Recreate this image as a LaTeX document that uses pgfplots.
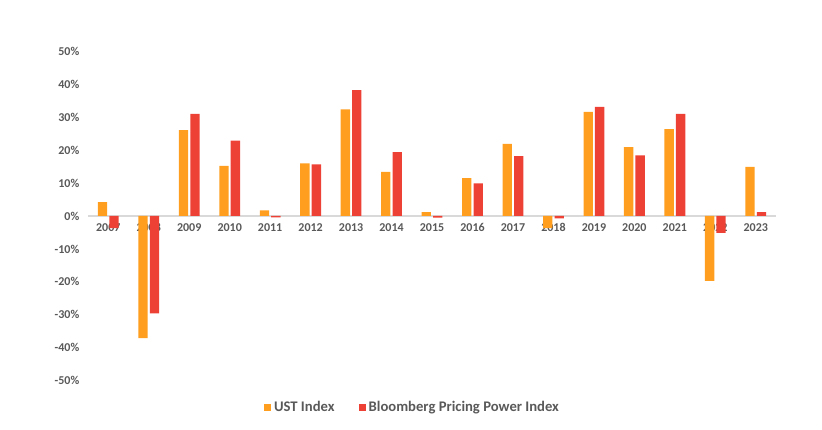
\documentclass[border=0pt]{standalone}
\usepackage{pgfplots}
\pgfplotsset{compat=1.18}
\usepackage{fontspec}
\setmainfont{Carlito}
\definecolor{ustorange}{HTML}{FF9E1F}
\definecolor{bbred}{HTML}{EE4136}
\definecolor{txtgray}{HTML}{595959}
\definecolor{zerogray}{HTML}{D9D9D9}
\begin{document}
\begin{tikzpicture}
\useasboundingbox (0,0) rectangle (616.5pt,321.75pt);
\begin{axis}[
    at={(81.2pt,159.75pt)}, anchor=origin,
    scale only axis,
    width=516pt, height=247pt,
    ybar=1.6pt, bar width=7pt,
    xmin=-0.5, xmax=16.5,
    ymin=-50, ymax=50,
    ytick={-50,-40,...,50},
    yticklabel={\pgfmathprintnumber{\tick}\%},
    xtick={0,...,16},
    xticklabels={2007,2008,2009,2010,2011,2012,2013,2014,2015,2016,2017,2018,2019,2020,2021,2022,2023},
    axis x line*=middle, axis y line*=left,
    x axis line style={-, draw=zerogray, line width=1.3pt},
    y axis line style={draw=none},
    major tick length=0pt,
    /pgf/number format/assume math mode=true,
    ticklabel style={font=\fontsize{9}{10}\selectfont\bfseries, text=txtgray},
    xticklabel style={yshift=-2pt},
    yticklabel style={xshift=-3pt},
    legend style={at={(0.472,-0.082)}, anchor=center, draw=none, fill=none,
        legend columns=2, font=\fontsize{11}{12}\selectfont\bfseries, text=txtgray,
        /tikz/every even column/.append style={column sep=16pt}},
    legend image code/.code={\fill (0pt,-2.8pt) rectangle (5.6pt,2.8pt);},
    clip=false,
]
\addplot[fill=ustorange, draw=none] coordinates {
(0,4.2) (1,-37.1) (2,26.1) (3,15.2) (4,1.7) (5,16.0) (6,32.4) (7,13.4) (8,1.2)
(9,11.5) (10,21.9) (11,-3.7) (12,31.6) (13,20.9) (14,26.4) (15,-19.7) (16,14.9)
};
\addlegendentry{UST Index}
\addplot[fill=bbred, draw=none] coordinates {
(0,-3.7) (1,-29.6) (2,31.0) (3,22.9) (4,-0.4) (5,15.7) (6,38.2) (7,19.4) (8,-0.5)
(9,9.9) (10,18.2) (11,-0.7) (12,33.1) (13,18.4) (14,31.0) (15,-5.1) (16,1.2)
};
\addlegendentry{Bloomberg Pricing Power Index}
\end{axis}
\end{tikzpicture}
\end{document}
